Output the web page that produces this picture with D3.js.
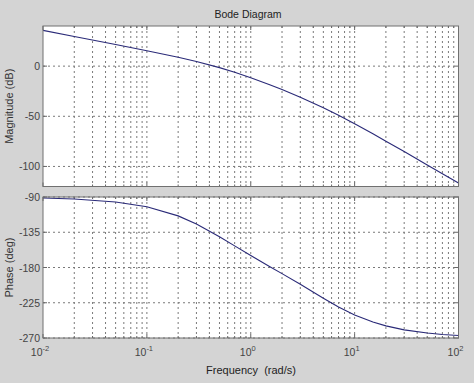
<!DOCTYPE html>
<html>
<head>
<meta charset="utf-8">
<script src="https://cdn.jsdelivr.net/npm/d3@7"></script>
<style>
  html, body { margin: 0; padding: 0; background: #d4d4d4; }
  svg { display: block; }
  text { font-family: "Liberation Sans", Arial, sans-serif; }
</style>
</head>
<body>
<svg id="chart" width="474" height="383"></svg>
<script>
// ---- data ----
const freq = [0.01, 0.02, 0.05, 0.1, 0.2, 0.3, 0.5, 0.7, 1, 1.5, 2, 3, 5, 7, 10, 15, 20, 30, 50, 70, 100];
const magnitudeDb = [35.6, 29.5, 21.5, 15.4, 8.9, 4.7, -1.5, -6.1, -11.6, -18.3, -23.4, -31.0, -41.5, -49.0, -57.5, -67.5, -74.8, -85.2, -98.5, -107.2, -116.5];
const phaseDeg = [-91.3, -92.5, -96.3, -102.5, -114.1, -124.4, -140.7, -152.4, -164.7, -178.3, -187.8, -201.5, -219.3, -230.4, -240.6, -249.7, -254.5, -259.6, -263.7, -265.5, -266.9];
const xTickExponents = [-2, -1, 0, 1, 2];
const magTicks = [0, -50, -100];
const phaseTicks = [-90, -135, -180, -225, -270];
const magDomain = [-120, 40];
const phaseDomain = [-270, -90];

const svg = d3.select("#chart");
const left = 43, right = 458.5;
const x = d3.scaleLog().domain([0.01, 100]).range([left, right]);
const yMag = d3.scaleLinear().domain(magDomain).range([186.5, 26]);
const yPh = d3.scaleLinear().domain(phaseDomain).range([338, 197]);

// all log-grid frequencies
const logGrid = [];
for (let e = -2; e < 2; e++) for (let m = 1; m <= 9; m++) logGrid.push(m * Math.pow(10, e));
logGrid.push(100);

function panel(y, ticks, values, label) {
  const [y0, y1] = y.range();
  const g = svg.append("g");
  g.append("rect").attr("x", left).attr("y", y1).attr("width", right - left).attr("height", y0 - y1)
    .attr("fill", "#ffffff");
  // vertical grid
  g.selectAll(".vg").data(logGrid.filter(d => d > 0.01 && d < 100)).enter().append("line")
    .attr("x1", d => x(d)).attr("x2", d => x(d)).attr("y1", y1).attr("y2", y0)
    .attr("stroke", "#7a7a7a").attr("stroke-width", 1).attr("stroke-dasharray", "2,3");
  // horizontal grid
  g.selectAll(".hg").data(ticks).enter().append("line")
    .attr("x1", left).attr("x2", right).attr("y1", d => y(d)).attr("y2", d => y(d))
    .attr("stroke", "#7a7a7a").attr("stroke-width", 1).attr("stroke-dasharray", "2,3");
  // inner ticks on x
  g.selectAll(".xt").data(logGrid).enter().append("line")
    .attr("x1", d => x(d)).attr("x2", d => x(d))
    .attr("y1", y0).attr("y2", d => y0 - (xTickExponents.some(e => Math.abs(Math.log10(d) - e) < 1e-9) ? 4 : 2))
    .attr("stroke", "#666");
  g.selectAll(".xt2").data(logGrid).enter().append("line")
    .attr("x1", d => x(d)).attr("x2", d => x(d))
    .attr("y1", y1).attr("y2", d => y1 + (xTickExponents.some(e => Math.abs(Math.log10(d) - e) < 1e-9) ? 4 : 2))
    .attr("stroke", "#666");
  // y ticks
  g.selectAll(".yt").data(ticks).enter().append("line")
    .attr("x1", left).attr("x2", left + 4).attr("y1", d => y(d)).attr("y2", d => y(d)).attr("stroke", "#666");
  g.selectAll(".yt2").data(ticks).enter().append("line")
    .attr("x1", right).attr("x2", right - 4).attr("y1", d => y(d)).attr("y2", d => y(d)).attr("stroke", "#666");
  g.selectAll(".yl").data(ticks).enter().append("text")
    .attr("x", left - 3).attr("y", d => y(d) + 4).attr("text-anchor", "end")
    .attr("font-size", 10.5).attr("fill", "#444").text(d => d);
  // curve
  const line = d3.line().x((d, i) => x(freq[i])).y(d => y(d));
  g.append("path").datum(values).attr("d", line).attr("fill", "none")
    .attr("stroke", "#2a2a78").attr("stroke-width", 1.1);
  // frame
  g.append("rect").attr("x", left).attr("y", y1).attr("width", right - left).attr("height", y0 - y1)
    .attr("fill", "none").attr("stroke", "#707070").attr("stroke-width", 1);
  // y label
  const cy = (y0 + y1) / 2;
  g.append("text").attr("transform", `translate(13,${cy}) rotate(-90)`).attr("text-anchor", "middle")
    .attr("font-size", 11).attr("fill", "#333").text(label);
}

panel(yMag, magTicks, magnitudeDb, "Magnitude (dB)");
panel(yPh, phaseTicks, phaseDeg, "Phase (deg)");

// x tick labels 10^e
const xl = svg.selectAll(".xl").data(xTickExponents).enter().append("text")
  .attr("x", d => x(Math.pow(10, d)) - 3).attr("y", 356).attr("text-anchor", "middle")
  .attr("font-size", 10.5).attr("fill", "#444");
xl.append("tspan").text("10");
xl.append("tspan").attr("dy", -5).attr("font-size", 7.5).text(d => d < 0 ? "-" + (-d) : d);

svg.append("text").attr("x", 248).attr("y", 18).attr("text-anchor", "middle")
  .attr("font-size", 10.5).attr("fill", "#222").text("Bode Diagram");
svg.append("text").attr("x", 251).attr("y", 374).attr("text-anchor", "middle")
  .attr("font-size", 11).attr("fill", "#222").attr("xml:space", "preserve").text("Frequency  (rad/s)");
</script>
</body>
</html>
